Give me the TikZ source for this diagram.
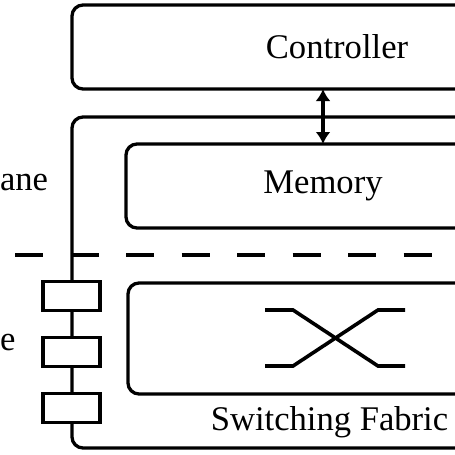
\documentclass[tikz,border=0pt]{standalone}
\usepackage{fontspec}
\setmainfont{Liberation Serif}
\usetikzlibrary{arrows.meta}

\begin{document}
\begin{tikzpicture}[x=1pt,y=-1pt,line width=3.3pt,
	every node/.style={inner sep=0,outer sep=0,font=\fontsize{34.6}{40}\selectfont},
	box/.style={draw,rounded corners=11pt},
	port/.style={draw,fill=white,minimum width=57pt,minimum height=29pt}]
	\useasboundingbox (0,0) rectangle (455,455);
	\node[box,minimum width=530pt,minimum height=84pt] (ctrl) at (337,47) {Controller};
	\draw[box] (72,117) rectangle (620,448);
	\node[box,minimum width=394pt,minimum height=84pt] (mem) at (323,186) {Memory};
	\draw[{Latex[length=12pt,width=15pt]}-{Latex[length=12pt,width=15pt]}] (ctrl.south -| mem.north) -- (mem.north);
	\draw[line width=3.6pt,dash pattern=on 28pt off 27.5pt] (15,255) -- (470,255);
	\node[box,minimum width=560pt,minimum height=111pt] (fab) at (408,338.5) {};
	\node[anchor=base] (sw) at (329.5,430) {Switching Fabric};
	\begin{scope}[shift={(335,338)},line width=3.6pt]
	\draw (-70,-28) -- (-42,-28) -- (43,28) -- (70,28);
	\draw (-70,28) -- (-42,28) -- (43,-28) -- (70,-28);
	\end{scope}
	\foreach \i/\y in {1/296,2/352,3/408}
		\node[port] (port\i) at (71.5,\y) {};
	\node[anchor=base west] (cp) at (0,190) {ane};
	\node[anchor=base west] (dp) at (0,350) {e};
\end{tikzpicture}
\end{document}
